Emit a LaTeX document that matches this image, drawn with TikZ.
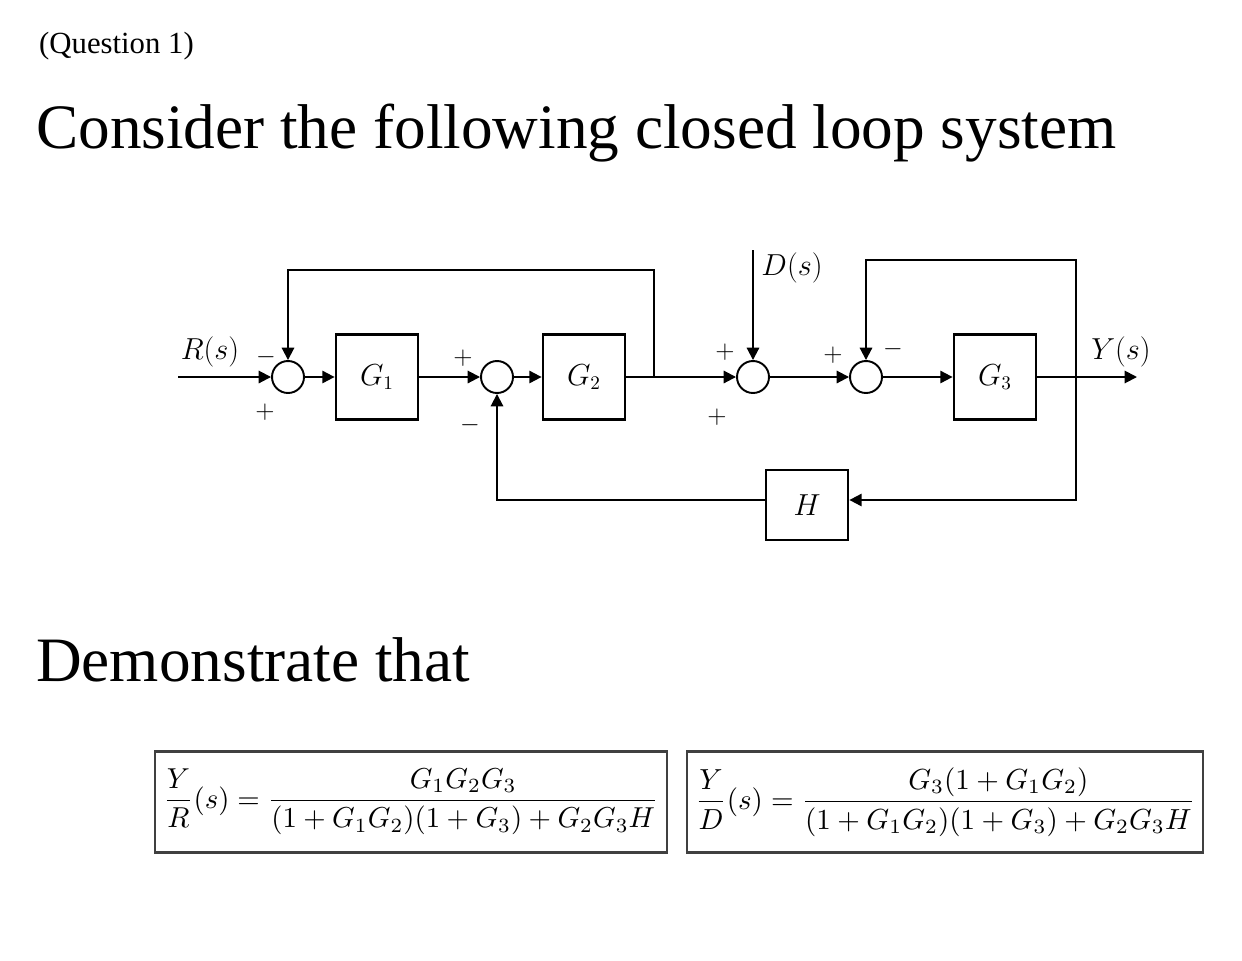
\documentclass[tikz,border=0pt]{standalone}
\usepackage{fontspec}
\setmainfont{Liberation Serif}
\usepackage{graphicx}
\usetikzlibrary{arrows.meta}
\begin{document}
\begin{tikzpicture}[x=0.02cm,y=-0.02cm,
  blk/.style={draw,line width=1.3pt,minimum width=1.65cm,minimum height=1.7cm,font=\fontsize{16}{18}\selectfont},
  sum/.style={draw,circle,line width=1.1pt,minimum size=0.64cm,inner sep=0pt},
  sig/.style={font=\fontsize{15}{16}\selectfont},
  lab/.style={font=\fontsize{16}{18}\selectfont},
  ar/.style={-{Triangle[length=7pt,width=7pt]},line width=1.1pt},
  ln/.style={line width=1.1pt},
  fbox/.style={draw=black!75,line width=1.6pt,inner sep=3pt}]
\useasboundingbox (0,0) rectangle (1242,961);
\node[anchor=west,font=\fontsize{17.5}{20}\selectfont] (q) at (33,46) {(Question 1)};
\node[anchor=west,font=\fontsize{36}{40}\selectfont] (t1) at (30,133) {Consider the following closed loop system};
\node[anchor=west,font=\fontsize{36}{40}\selectfont] (t2) at (30,660) {Demonstrate that};

\coordinate (in) at (178,377);
\node[sum] (s1) at (288,377) {};
\node[blk] (g1) at (377,377) {$G_1$};
\node[sum] (s2) at (497,377) {};
\node[blk] (g2) at (584,377) {$G_2$};
\node[sum] (s3) at (753,377) {};
\node[sum] (s4) at (866,377) {};
\node[blk] (g3) at (995,377) {$G_3$};
\node[blk,minimum height=1.4cm] (h) at (807,505) {$H$};
\coordinate (b1) at (654,377);
\coordinate (b2) at (1076,377);
\coordinate (out) at (1137,377);
\coordinate (dtop) at (753,250);

\draw[ar] (in) -- (s1);
\draw[ar] (s1) -- (g1);
\draw[ar] (g1) -- (s2);
\draw[ar] (s2) -- (g2);
\draw[ln] (g2) -- (b1);
\draw[ar] (b1) -- (s3);
\draw[ar] (b1) |- (400,270) -| (s1);
\draw[ar] (dtop) -- (s3);
\draw[ar] (s3) -- (s4);
\draw[ar] (s4) -- (g3);
\draw[ln] (g3) -- (b2);
\draw[ar] (b2) -- (out);
\draw[ar] (b2) |- (950,260) -| (s4);
\draw[ar] (b2) |- (h.east |- 0,500);
\draw[ar] (h.west |- 0,500) -| (s2);

\node[lab] (rl) at (210,352) {$R(s)$};
\node[lab] (yl) at (1121,352) {$Y(s)$};
\node[lab] (dl) at (792,268) {$D(s)$};
\node[sig] at (266,357) {$-$};
\node[sig] at (265,412) {$+$};
\node[sig] at (463,358) {$+$};
\node[sig] at (470,425) {$-$};
\node[sig] at (725,352) {$+$};
\node[sig] at (717,417) {$+$};
\node[sig] at (833,355) {$+$};
\node[sig] at (893,349) {$-$};

\node[fbox,minimum width=10.24cm,minimum height=2.02cm] (f1) at (411,802) {\resizebox{9.9cm}{!}{$\displaystyle \frac{Y}{R}(s)=\frac{G_1G_2G_3}{(1+G_1G_2)(1+G_3)+G_2G_3H}$}};
\node[fbox,minimum width=10.32cm,minimum height=2.02cm] (f2) at (945,802) {\resizebox{10cm}{!}{$\displaystyle \frac{Y}{D}(s)=\frac{G_3(1+G_1G_2)}{(1+G_1G_2)(1+G_3)+G_2G_3H}$}};
\end{tikzpicture}
\end{document}
